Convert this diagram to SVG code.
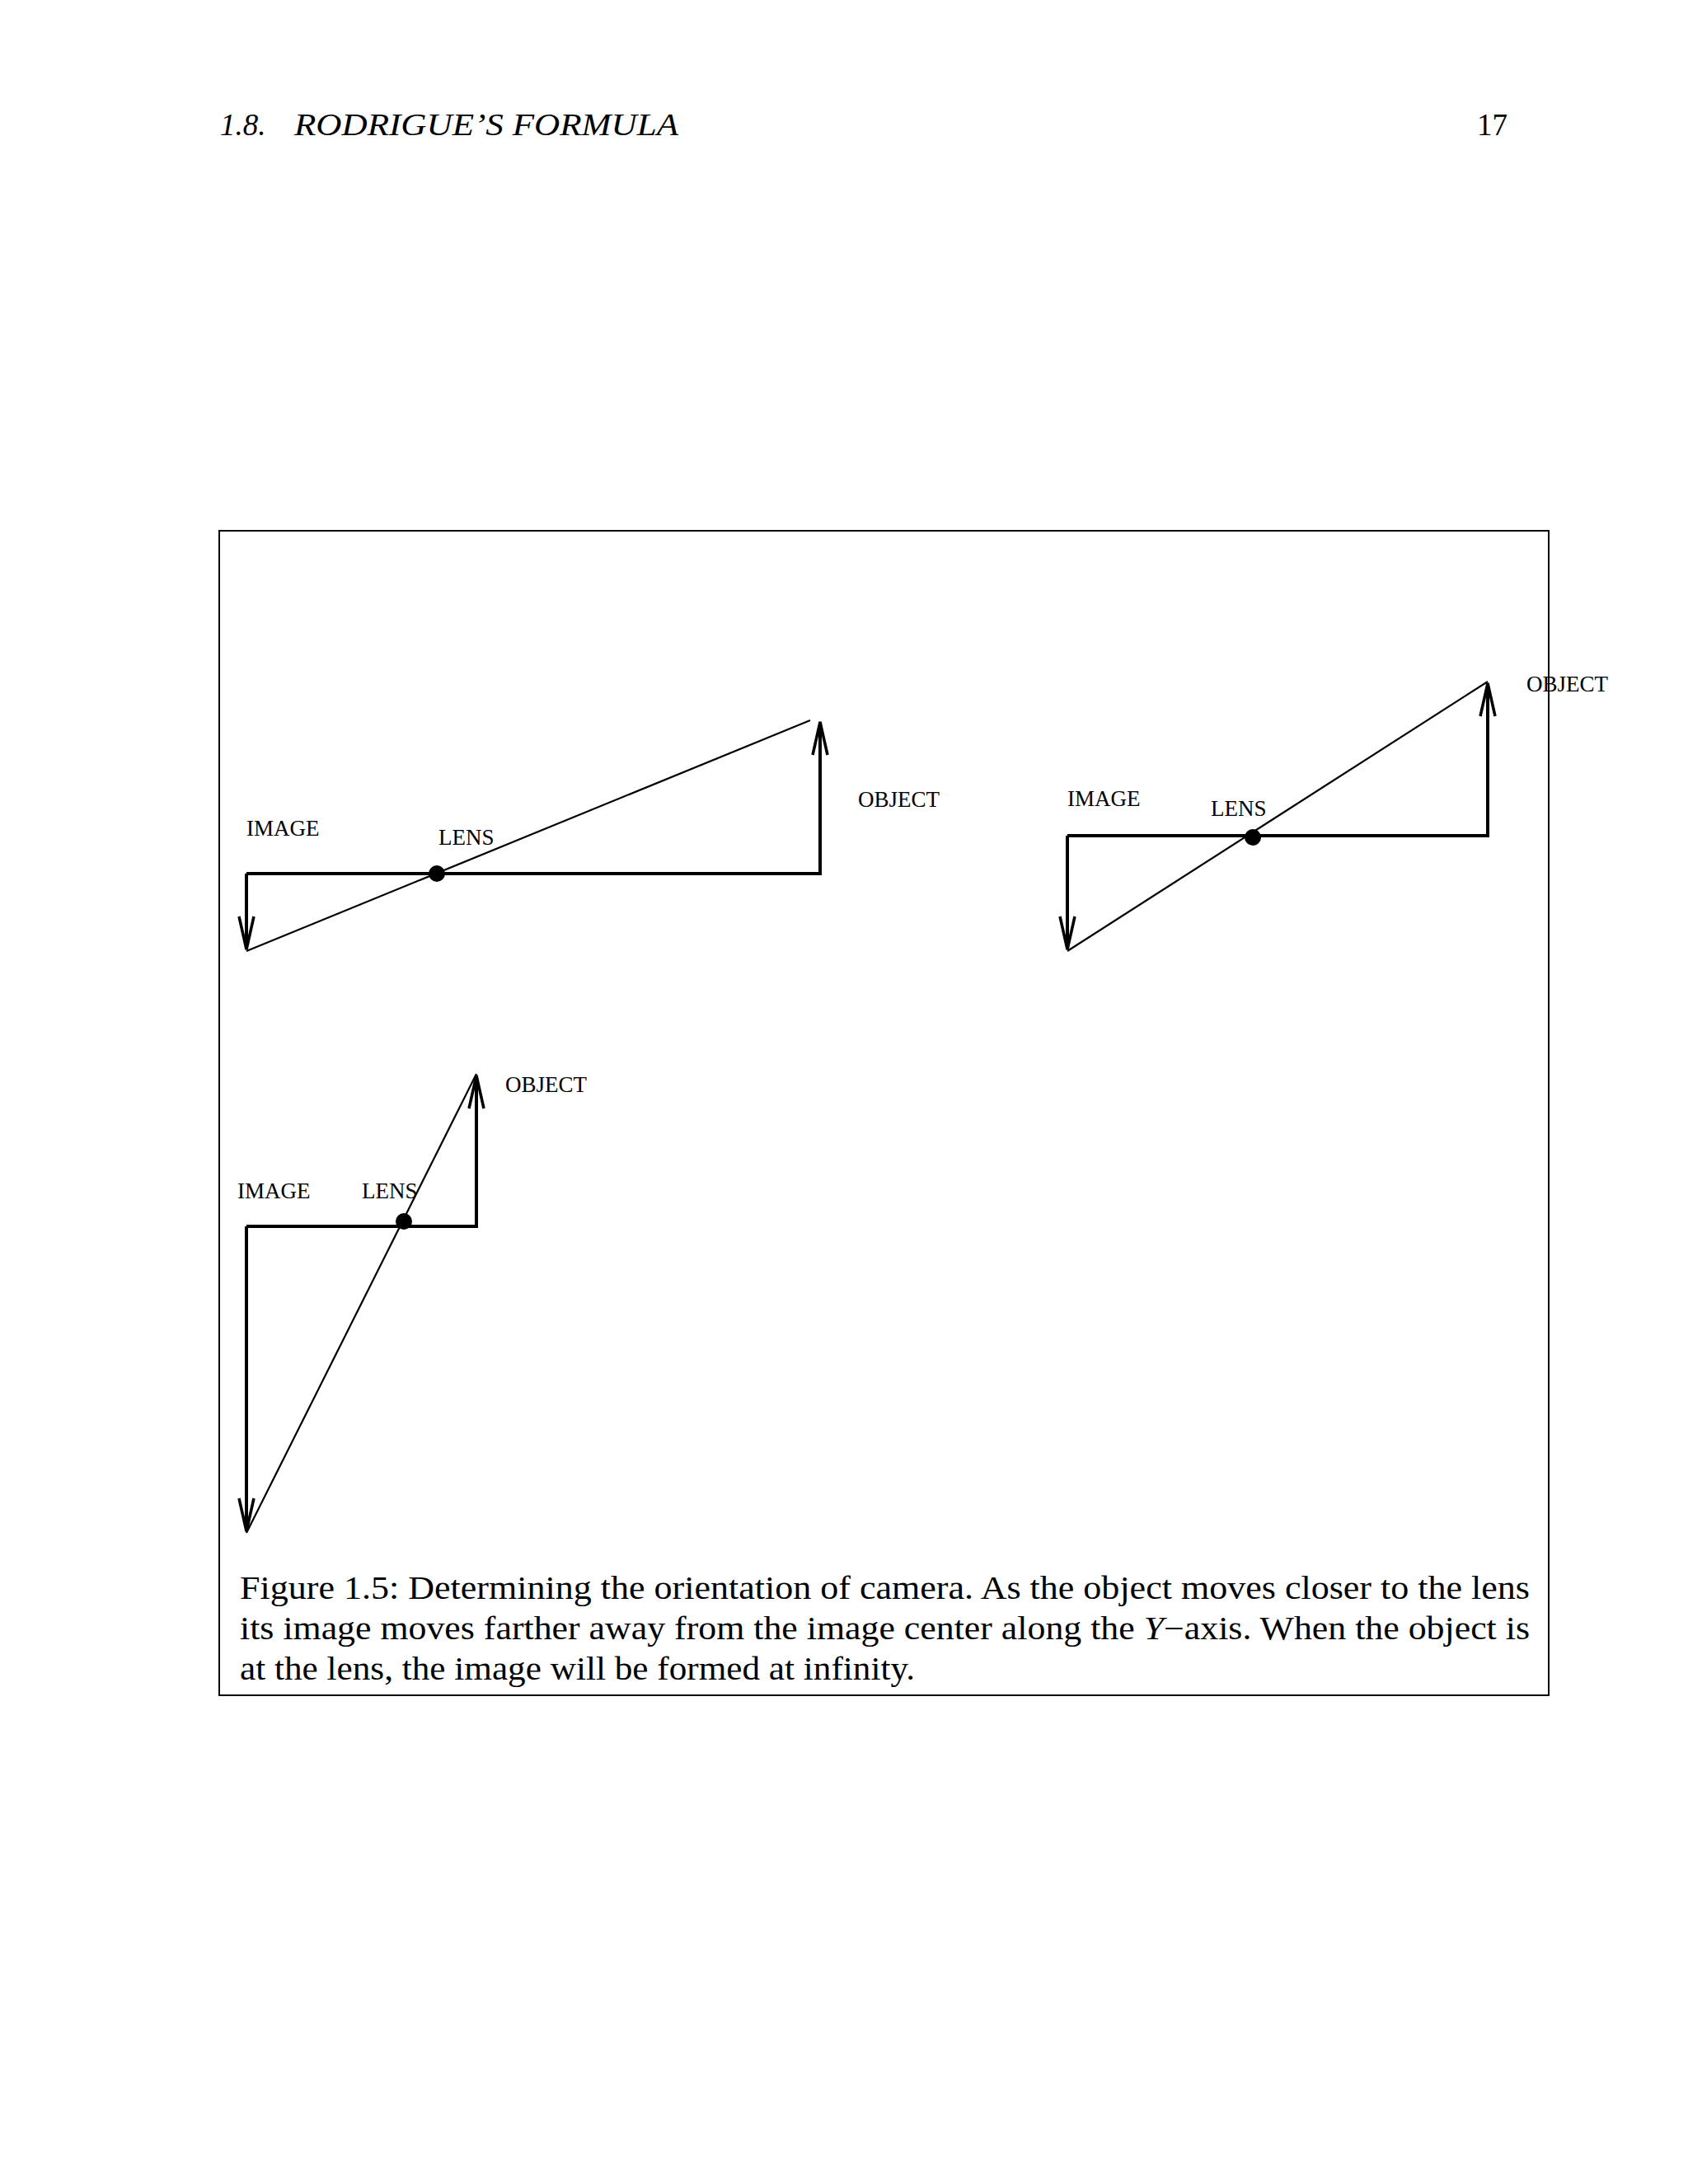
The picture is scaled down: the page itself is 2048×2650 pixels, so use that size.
<svg xmlns="http://www.w3.org/2000/svg" width="2048" height="2650" viewBox="0 0 2048 2650">
<style>
.t{font-family:"Liberation Serif",serif;font-size:27px;fill:#000}
.c{font-family:"Liberation Serif",serif;font-size:39px;fill:#000}
.h{font-family:"Liberation Serif",serif;font-size:37px;font-style:italic;fill:#000}
.n{font-family:"Liberation Serif",serif;font-size:37px;fill:#000}
.thick{stroke:#000;stroke-width:4;fill:none}
.thin{stroke:#000;stroke-width:2.2;fill:none}
</style>
<defs>
<marker id="ah" viewBox="-44 -14 48 28" markerWidth="48" markerHeight="28" markerUnits="userSpaceOnUse" orient="auto" refX="0" refY="0">
<path d="M-40,-9 L0,0 L-40,9" stroke="#000" stroke-width="3.5" fill="none"/>
</marker>
</defs>
<rect width="2048" height="2650" fill="#fff"/>
<text class="h" x="267" y="164">1.8.</text>
<text class="h" x="357" y="164" textLength="466" lengthAdjust="spacingAndGlyphs">RODRIGUE’S FORMULA</text>
<text class="n" x="1829" y="164" text-anchor="end">17</text>
<rect x="266" y="644" width="1613" height="1413" fill="none" stroke="#000" stroke-width="2"/>
<g id="connectors">
<path class="thick" d="M299,1060 H995 V876" marker-end="url(#ah)"/>
<path class="thick" d="M299,1060 V1152" marker-end="url(#ah)"/>
<path class="thin" d="M299,1154 L983,874"/>
<path class="thick" d="M1295,1014 H1805 V829" marker-end="url(#ah)"/>
<path class="thick" d="M1295,1014 V1152" marker-end="url(#ah)"/>
<path class="thin" d="M1295,1154 L1805,827"/>
<path class="thick" d="M299,1488 H578 V1305" marker-end="url(#ah)"/>
<path class="thick" d="M299,1488 V1858" marker-end="url(#ah)"/>
<path class="thin" d="M299,1860 L578,1303"/>
</g>
<g id="diagram1">
<circle cx="530" cy="1060" r="10"/>
<text class="t" x="299" y="1014">IMAGE</text>
<text class="t" x="532" y="1025">LENS</text>
<text class="t" x="1041" y="979">OBJECT</text>
</g>
<g id="diagram2">
<circle cx="1520" cy="1016" r="10"/>
<text class="t" x="1295" y="978">IMAGE</text>
<text class="t" x="1469" y="990">LENS</text>
<text class="t" x="1852" y="839">OBJECT</text>
</g>
<g id="diagram3">
<circle cx="490" cy="1482" r="10"/>
<text class="t" x="288" y="1454">IMAGE</text>
<text class="t" x="439" y="1454">LENS</text>
<text class="t" x="613" y="1325">OBJECT</text>
</g>
<g id="caption">
<text class="c" x="291" y="1940" textLength="1565" lengthAdjust="spacingAndGlyphs">Figure 1.5: Determining the orientation of camera. As the object moves closer to the lens</text>
<text class="c" x="291" y="1989" textLength="1565" lengthAdjust="spacingAndGlyphs">its image moves farther away from the image center along the <tspan font-style="italic">Y</tspan>−axis. When the object is</text>
<text class="c" x="291" y="2038" textLength="819" lengthAdjust="spacingAndGlyphs">at the lens, the image will be formed at infinity.</text>
</g>
</svg>
